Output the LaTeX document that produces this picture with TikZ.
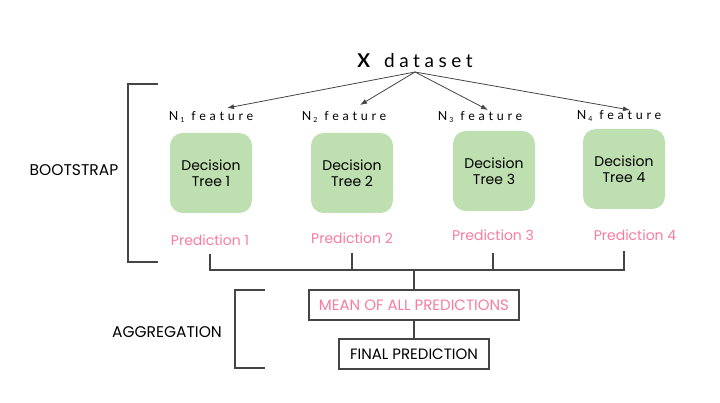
\documentclass[tikz,border=0pt]{standalone}
\usepackage{fontspec}
\setmainfont{Poppins}
\newfontfamily\featfont[LetterSpace=30]{Lato}
\newfontfamily\datafont[LetterSpace=24]{Lato}
\usepackage{tikz}
\usetikzlibrary{arrows.meta,positioning}
\definecolor{rfgreen}{HTML}{BEDFAF}
\definecolor{rfpink}{HTML}{F77CA0}
\definecolor{rfline}{HTML}{454545}
\newcommand{\nsub}[1]{\,\raisebox{-2.5pt}{\fontsize{7}{8}\selectfont #1}}

\begin{document}
\begin{tikzpicture}[
  x=1pt, y=-1pt,
  font=\fontsize{14}{16}\selectfont,
  tree/.style={fill=rfgreen, rounded corners=4.5mm, minimum width=82pt,
    minimum height=80pt, align=center, inner sep=0pt},
  feat/.style={font=\featfont\fontsize{12.5}{14}\selectfont, inner sep=1pt},
  pred/.style={text=rfpink, inner sep=1pt},
  aggbox/.style={draw=rfline, line width=1.2pt, minimum height=30pt, inner sep=0pt,
    font=\fontsize{15}{17}\selectfont},
  side/.style={font=\fontsize{15.5}{18}\selectfont},
  arr/.style={-{Latex[length=7pt,width=5pt]}, line width=0.8pt, rfline},
  brk/.style={line width=1.6pt, rfline},
  joinline/.style={line width=1.3pt, rfline},
]
\useasboundingbox (0,0) rectangle (720,403);
% dataset
\node[font=\datafont\fontsize{19}{22}\selectfont] (data) at (415,61) {\textbf{X} dataset};
\coordinate (src) at (415,72);
% features
\node[feat] (f1) at (211,117) {N\nsub{1} feature};
\node[feat] (f2) at (344,117) {N\nsub{2} feature};
\node[feat] (f3) at (480,117) {N\nsub{3} feature};
\node[feat] (f4) at (619,116) {N\nsub{4} feature};
\coordinate (a1) at (227,108);
\coordinate (a2) at (360,105);
\coordinate (a3) at (488,110);
\coordinate (a4) at (630,110);
\draw[arr] (src) -- (a1);
\draw[arr] (src) -- (a2);
\draw[arr] (src) -- (a3);
\draw[arr] (src) -- (a4);
% trees
\node[tree] (t1) at (211,173) {Decision\\Tree 1};
\node[tree] (t2) at (352,173) {Decision\\Tree 2};
\node[tree] (t3) at (494,171) {Decision\\Tree 3};
\node[tree] (t4) at (624,169) {Decision\\Tree 4};
% predictions
\node[pred] (p1) at (210,240) {Prediction 1};
\node[pred] (p2) at (352,238) {Prediction 2};
\node[pred] (p3) at (493,235) {Prediction 3};
\node[pred] (p4) at (635,235) {Prediction 4};
% joining line
\coordinate (j1) at (210,270);
\coordinate (j2) at (352,270);
\coordinate (j3) at (493,270);
\coordinate (j4) at (624,270);
\coordinate (jm) at (414,270);
\coordinate (q1) at (210,254);
\coordinate (q2) at (352,253);
\coordinate (q3) at (493,253);
\coordinate (q4) at (624,251);
\draw[joinline] (q1) -- (j1) -- (j4) -- (q4);
\draw[joinline] (q2) -- (j2);
\draw[joinline] (q3) -- (j3);
% aggregation
\node[aggbox, minimum width=210pt, text=rfpink] (mean) at (414,305) {MEAN OF ALL PREDICTIONS};
\node[aggbox, minimum width=150pt] (final) at (414,354) {FINAL PREDICTION};
\draw[joinline] (jm) -- (mean.north);
\draw[joinline] (mean.south) -- (final.north);
% brackets
\draw[brk] (158,84) -- (128,84) -- (128,262) -- (158,262);
\node[side] (boot) at (74,170) {BOOTSTRAP};
\draw[brk] (265,290) -- (235,290) -- (235,368) -- (265,368);
\node[side] (agg) at (167,332) {AGGREGATION};
\end{tikzpicture}
\end{document}
